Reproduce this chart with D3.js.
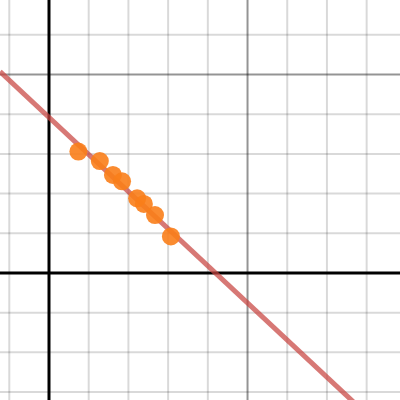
<!DOCTYPE html>
<html><head><meta charset="utf-8">
<script src="https://cdn.jsdelivr.net/npm/d3@7"></script>
<style>html,body{margin:0;padding:0;background:#fff;}svg{display:block;}</style>
</head><body>
<svg id="c" width="400" height="400"></svg>
<script>
const xDomain = [-1.234, 8.84];
const yDomain = [-3.2, 6.877];
const pointX = [0.74, 1.28, 1.61, 1.84, 2.22, 2.39, 2.67, 3.07];
const pointY = [3.06, 2.82, 2.47, 2.31, 1.88, 1.74, 1.46, 0.92];
const lineIntercept = 3.92;
const lineSlope = -0.935;
const minorTicks = d3.range(-1, 9, 1);
const majorTicks = [5];

const W = 400, H = 400;
const x = d3.scaleLinear().domain(xDomain).range([0, W]);
const y = d3.scaleLinear().domain(yDomain).range([H, 0]);
const svg = d3.select('#c');

const g = svg.append('g');
// minor grid
g.selectAll('.vx').data(minorTicks.filter(t => t !== 0 && !majorTicks.includes(t))).join('line')
  .attr('x1', d => x(d)).attr('x2', d => x(d)).attr('y1', 0).attr('y2', H)
  .attr('stroke', '#000').attr('stroke-opacity', 0.15).attr('stroke-width', 2);
g.selectAll('.hy').data(d3.range(-3, 7, 1).filter(t => t !== 0 && !majorTicks.includes(t))).join('line')
  .attr('y1', d => y(d)).attr('y2', d => y(d)).attr('x1', 0).attr('x2', W)
  .attr('stroke', '#000').attr('stroke-opacity', 0.15).attr('stroke-width', 2);
// major grid
g.append('g').selectAll('line').data(majorTicks).join('line')
  .attr('x1', d => x(d)).attr('x2', d => x(d)).attr('y1', 0).attr('y2', H)
  .attr('stroke', '#000').attr('stroke-opacity', 0.42).attr('stroke-width', 2);
g.append('g').selectAll('line').data(majorTicks).join('line')
  .attr('y1', d => y(d)).attr('y2', d => y(d)).attr('x1', 0).attr('x2', W)
  .attr('stroke', '#000').attr('stroke-opacity', 0.42).attr('stroke-width', 2);
// axes
svg.append('line').attr('x1', x(0)).attr('x2', x(0)).attr('y1', 0).attr('y2', H)
  .attr('stroke', '#000').attr('stroke-width', 3);
svg.append('line').attr('y1', y(0)).attr('y2', y(0)).attr('x1', 0).attr('x2', W)
  .attr('stroke', '#000').attr('stroke-width', 3);

// regression line
const lx = xDomain;
svg.append('line')
  .attr('x1', x(lx[0])).attr('y1', y(lineIntercept + lineSlope * lx[0]))
  .attr('x2', x(lx[1])).attr('y2', y(lineIntercept + lineSlope * lx[1]))
  .attr('stroke', '#c74440').attr('stroke-opacity', 0.72).attr('stroke-width', 5);

// points
svg.append('g').selectAll('circle').data(pointX.map((v, i) => [v, pointY[i]])).join('circle')
  .attr('cx', d => x(d[0])).attr('cy', d => y(d[1])).attr('r', 9)
  .attr('fill', '#fa7e19').attr('fill-opacity', 0.9);
</script>
</body></html>
